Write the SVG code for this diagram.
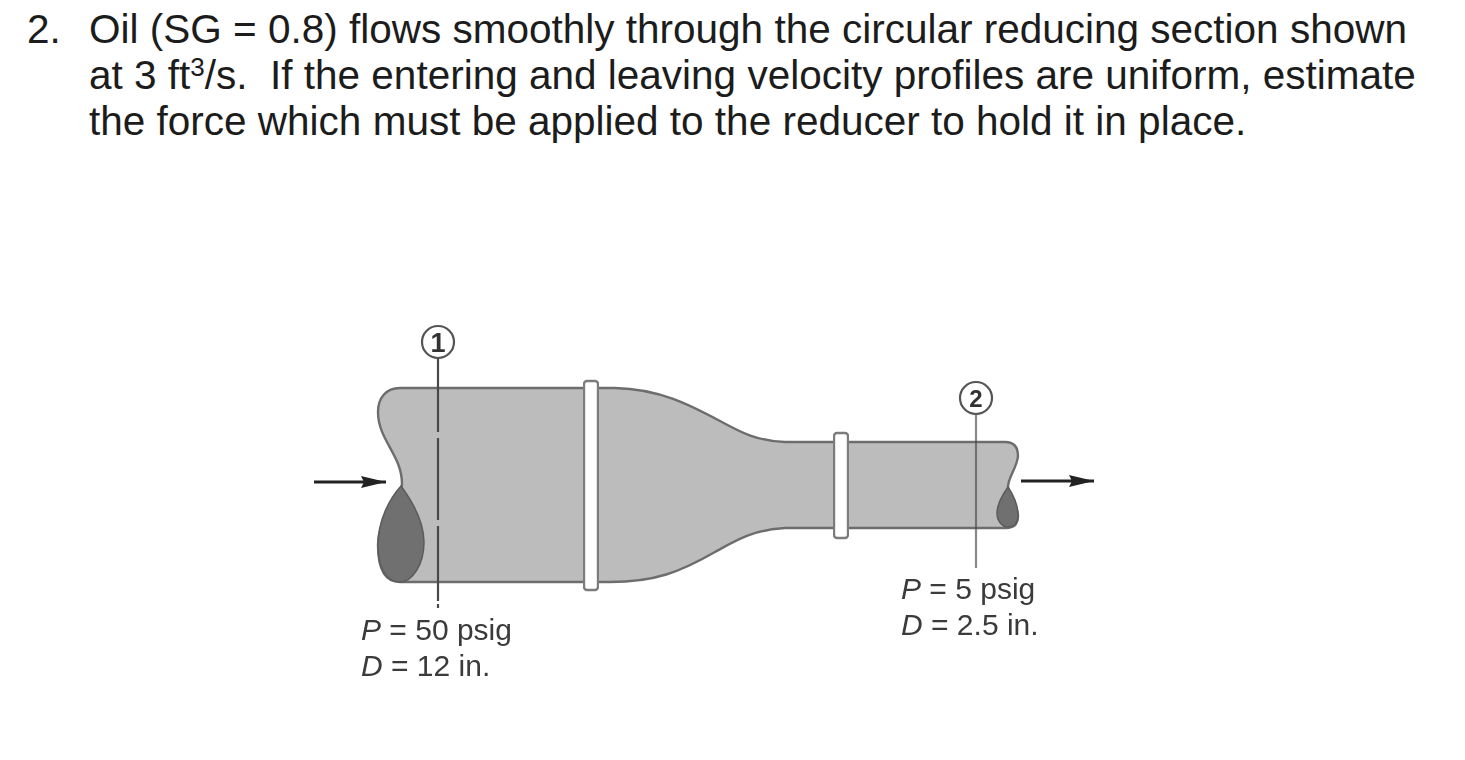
<svg xmlns="http://www.w3.org/2000/svg" width="1465" height="760" viewBox="0 0 1465 760">
<defs>
<marker id="arrow" markerUnits="userSpaceOnUse" markerWidth="26" markerHeight="16" refX="25" refY="8" orient="auto"><path d="M0 2 L25 8 L0 14 L3 8 Z" fill="#222"/></marker>
<filter id="soft" x="-5%" y="-5%" width="110%" height="110%"><feGaussianBlur stdDeviation="0.7"/></filter>
<filter id="softer" x="-5%" y="-10%" width="110%" height="120%"><feGaussianBlur stdDeviation="0.45"/></filter>
</defs>
<style>
.q{font-family:"Liberation Sans",Arial,sans-serif;font-size:40.5px;fill:#1c1c1c;white-space:pre}
.l{font-family:"Liberation Sans",Arial,sans-serif;font-size:30px;fill:#3a3a3a}
.i{font-style:italic}
.n{font-family:"Liberation Sans",Arial,sans-serif;font-size:27px;fill:#333;text-anchor:middle;font-weight:bold}
.ring{fill:#fff;stroke:#555;stroke-width:2.2}
.flange{fill:#fff;stroke:#7c7c7c;stroke-width:2.4}
.cut{fill:#6f6f6f;stroke:#5c5c5c;stroke-width:1.5}
.lead{fill:none;stroke:#4a4a4a;stroke-width:2.2}
.flow{fill:none;stroke:#222;stroke-width:3;marker-end:url(#arrow)}
</style>
<rect width="1465" height="760" fill="#fff"/>
<g id="problem-text">
<text class="q" x="27" y="43">2.</text>
<text class="q" x="89" y="43">Oil (SG = 0.8) flows smoothly through the circular reducing section shown</text>
<text class="q" x="89" y="89">at 3 ft<tspan font-size="26" dy="-13">3</tspan><tspan dy="13">/s.  If the entering and leaving velocity profiles are uniform, estimate</tspan></text>
<text class="q" x="89" y="135">the force which must be applied to the reducer to hold it in place.</text>
</g>
<g id="reducer" filter="url(#soft)">
<path d="M400 388 H615 C660 389 690 405 720 421 C742 433 757 441 785 442 H1005 C1014 442 1018 447 1018 456 C1017 468 1008 477 1008 487 C1008 497 1018 505 1018 516 C1018 524 1014 528 1006 528 H785 C755 529 735 541 715 552 C680 572 655 582 610 582 H400 C386 582 378 570 378 545 C378 515 402 505 402 484 C402 455 378 440 378 412 C378 398 386 388 400 388 Z" fill="#bbbcbb" stroke="#6d6d6d" stroke-width="2.4"/>
</g>
<g id="inlet-opening" filter="url(#soft)">
<path class="cut" d="M401 486 C415 505 424 525 424 542 C424 565 412 582 400 582 C386 582 378 568 378 545 C378 520 390 498 401 486 Z"/>
</g>
<g id="outlet-opening" filter="url(#soft)">
<path class="cut" d="M1008 487 C1014 496 1018 506 1018 515 C1018 524 1013 527 1008 527 C1002 527 997 521 997 513 C997 503 1003 494 1008 487 Z"/>
</g>
<g id="flange-1" filter="url(#softer)"><rect class="flange" x="584" y="381" width="14" height="209" rx="3"/></g>
<g id="flange-2" filter="url(#softer)"><rect class="flange" x="834" y="433" width="14" height="105" rx="3"/></g>
<g id="connectors" filter="url(#softer)">
<path class="lead" d="M438 358 V432 M438 438 V520 M438 526 V601 M438 604 V608"/>
<path class="lead" stroke-opacity="0.65" d="M976 414 V568"/>
<path class="flow" d="M314 482 H386"/>
<path class="flow" d="M1021 481 H1094"/>
</g>
<g id="section-1" filter="url(#softer)"><circle class="ring" cx="438" cy="342" r="16"/><text class="n" x="438" y="352">1</text></g>
<g id="section-2" filter="url(#softer)"><circle class="ring" cx="976" cy="398" r="16"/><text class="n" x="976" y="407" style="font-size:24px">2</text></g>
<g id="label-1" filter="url(#softer)">
<text class="l" x="361" y="640"><tspan class="i">P</tspan> = 50 psig</text>
<text class="l" x="361" y="676"><tspan class="i">D</tspan> = 12 in.</text>
</g>
<g id="label-2" filter="url(#softer)">
<text class="l" x="901" y="599"><tspan class="i">P</tspan> = 5 psig</text>
<text class="l" x="901" y="635"><tspan class="i">D</tspan> = 2.5 in.</text>
</g>
</svg>
